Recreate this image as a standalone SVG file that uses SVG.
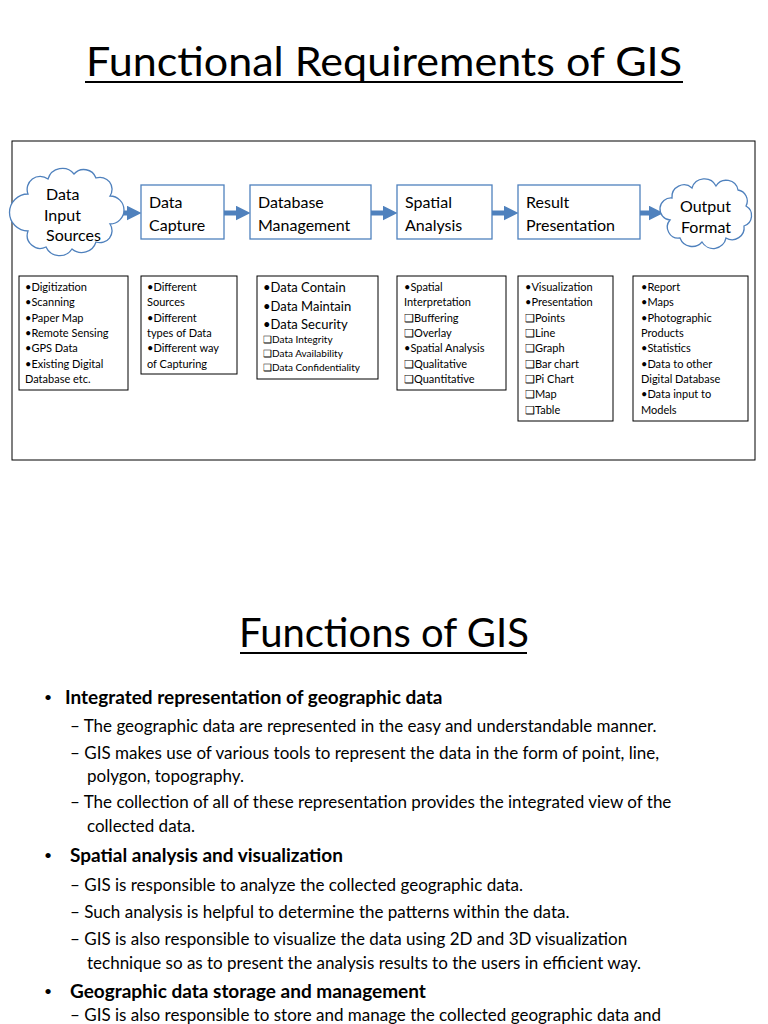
<svg xmlns="http://www.w3.org/2000/svg" width="768" height="1024" viewBox="0 0 768 1024">
<defs>
<style>
text{font-family:Lato,"Open Sans","Liberation Sans",sans-serif;fill:#000}
.t{font-size:40px;text-anchor:middle}
.nb{fill:#fff;stroke:#4f81bd;stroke-width:1.3}
.lb{fill:#fff;stroke:#000;stroke-width:1}
.nt{font-size:16px}
.s{font-size:11px}
.m{font-size:13px}
.h{font-size:19px;font-weight:bold}
.d{font-size:14px}
.b{font-size:17px}
.cl{fill:#fff;stroke:#4f81bd;stroke-width:1.3}
.ar{stroke:#4f81bd;stroke-width:5;fill:none;marker-end:url(#ah)}
</style>
<marker id="ah" markerWidth="3" markerHeight="3" refX="1.5" refY="1.5" orient="auto"><path d="M0,0L3,1.5L0,3z" fill="#4f81bd"/></marker>
</defs>
<text class="t" x="384" y="76" textLength="596" lengthAdjust="spacingAndGlyphs">Functional Requirements of GIS</text>
<line x1="85" y1="82" x2="683" y2="82" stroke="#000" stroke-width="2"/>
<rect x="12" y="141" width="743" height="319" fill="#fff" stroke="#000" stroke-width="1"/>
<g id="connectors">
<line class="ar" x1="121" y1="213" x2="134" y2="213"/>
<line class="ar" x1="224" y1="213" x2="243" y2="213"/>
<line class="ar" x1="371" y1="213" x2="390" y2="213"/>
<line class="ar" x1="492" y1="213" x2="511" y2="213"/>
<line class="ar" x1="640" y1="213" x2="656" y2="213"/>
</g>
<g id="n-input">
<path class="cl" d="M28,194 a13,13 0 0 1 20,-15 a15,15 0 0 1 26,-5 a13,13 0 0 1 22,4 a12,12 0 0 1 14,18 a13,13 0 0 1 0,28 a12,12 0 0 1 -14,18 a15,15 0 0 1 -24,7 a15,15 0 0 1 -26,-2 a13,13 0 0 1 -18,-16 a13,13 0 0 1 0,-37z"/>
<text class="nt" x="46" y="200">Data</text><text class="nt" x="44" y="221">Input</text><text class="nt" x="46" y="241">Sources</text>
</g>
<g id="n-capture"><rect class="nb" x="141" y="185" width="83" height="54"/><text class="nt" x="149" y="208">Data</text><text class="nt" x="149" y="231">Capture</text></g>
<g id="n-db"><rect class="nb" x="250" y="185" width="121" height="54"/><text class="nt" x="258" y="208">Database</text><text class="nt" x="258" y="231">Management</text></g>
<g id="n-spatial"><rect class="nb" x="397" y="185" width="95" height="54"/><text class="nt" x="405" y="208">Spatial</text><text class="nt" x="405" y="231">Analysis</text></g>
<g id="n-result"><rect class="nb" x="518" y="185" width="122" height="54"/><text class="nt" x="526" y="208">Result</text><text class="nt" x="526" y="231">Presentation</text></g>
<g id="n-output">
<path class="cl" d="M672,198 a12,12 0 0 1 20,-10 a13,13 0 0 1 24,-2 a12,12 0 0 1 22,4 a11,11 0 0 1 8,16 a11,11 0 0 1 -2,20 a12,12 0 0 1 -18,12 a13,13 0 0 1 -24,4 a13,13 0 0 1 -22,-4 a11,11 0 0 1 -10,-18 a11,11 0 0 1 2,-22z"/>
<text class="nt" x="680" y="212">Output</text><text class="nt" x="681" y="233">Format</text>
</g>
<g id="l-input"><rect class="lb" x="19" y="276" width="109" height="114"/>
<text class="s"><tspan x="25" y="291">•Digitization</tspan><tspan x="25" y="306">•Scanning</tspan><tspan x="25" y="322">•Paper Map</tspan><tspan x="25" y="337">•Remote Sensing</tspan><tspan x="25" y="352">•GPS Data</tspan><tspan x="25" y="368">•Existing Digital</tspan><tspan x="25" y="383">Database etc.</tspan></text></g>
<g id="l-capture"><rect class="lb" x="141" y="276" width="96" height="98"/>
<text class="s"><tspan x="147" y="291">•Different</tspan><tspan x="147" y="306">Sources</tspan><tspan x="147" y="322">•Different</tspan><tspan x="147" y="337">types of Data</tspan><tspan x="147" y="352">•Different way</tspan><tspan x="147" y="368">of  Capturing</tspan></text></g>
<g id="l-db"><rect class="lb" x="257" y="276" width="121" height="103"/>
<text class="m"><tspan x="263" y="292">•Data Contain</tspan><tspan x="263" y="311">•Data Maintain</tspan><tspan x="263" y="329">•Data Security</tspan></text>
<text style="font-size:10px"><tspan x="263" y="343">❑Data Integrity</tspan><tspan x="263" y="357">❑Data  Availability</tspan><tspan x="263" y="371">❑Data Confidentiality</tspan></text></g>
<g id="l-spatial"><rect class="lb" x="397" y="276" width="109" height="114"/>
<text class="s"><tspan x="404" y="291">•Spatial</tspan><tspan x="404" y="306">Interpretation</tspan><tspan x="404" y="322">❑Buffering</tspan><tspan x="404" y="337">❑Overlay</tspan><tspan x="404" y="352">•Spatial Analysis</tspan><tspan x="404" y="368">❑Qualitative</tspan><tspan x="404" y="383">❑Quantitative</tspan></text></g>
<g id="l-result"><rect class="lb" x="518" y="276" width="95" height="145"/>
<text class="s"><tspan x="525" y="291">•Visualization</tspan><tspan x="525" y="306">•Presentation</tspan><tspan x="525" y="322">❑Points</tspan><tspan x="525" y="337">❑Line</tspan><tspan x="525" y="352">❑Graph</tspan><tspan x="525" y="368">❑Bar chart</tspan><tspan x="525" y="383">❑Pi Chart</tspan><tspan x="525" y="398">❑Map</tspan><tspan x="525" y="414">❑Table</tspan></text></g>
<g id="l-output"><rect class="lb" x="633" y="276" width="115" height="145"/>
<text class="s"><tspan x="641" y="291">•Report</tspan><tspan x="641" y="306">•Maps</tspan><tspan x="641" y="322">•Photographic</tspan><tspan x="641" y="337">Products</tspan><tspan x="641" y="352">•Statistics</tspan><tspan x="641" y="368">•Data to other</tspan><tspan x="641" y="383">Digital Database</tspan><tspan x="641" y="398">•Data input to</tspan><tspan x="641" y="414">Models</tspan></text></g>
<text class="t" x="384" y="647">Functions of GIS</text>
<line x1="240" y1="653" x2="527" y2="653" stroke="#000" stroke-width="2"/>
<g id="body">
<text class="d" x="44" y="702">•</text><text class="h" x="65" y="704">Integrated representation of geographic data</text>
<text class="b" x="70" y="732">– The geographic data are represented in the easy and understandable manner.</text>
<text class="b" x="70" y="759">– GIS makes use of various tools to represent the data in the form of point, line,</text>
<text class="b" x="87" y="782">polygon, topography.</text>
<text class="b" x="70" y="808">– The collection of all of these representation provides the integrated view of the</text>
<text class="b" x="87" y="832">collected data.</text>
<text class="d" x="44" y="860">•</text><text class="h" x="70" y="862">Spatial analysis and visualization</text>
<text class="b" x="70" y="891">– GIS is responsible to analyze the collected geographic data.</text>
<text class="b" x="70" y="918">– Such analysis is helpful to determine the patterns within the data.</text>
<text class="b" x="70" y="945">– GIS is also responsible to visualize the data using 2D and 3D visualization</text>
<text class="b" x="87" y="969">technique so as to present the analysis results to the users in efficient way.</text>
<text class="d" x="44" y="996">•</text><text class="h" x="70" y="998">Geographic data storage and management</text>
<text class="b" x="70" y="1021">– GIS is also responsible to store and manage the collected geographic data and</text>
</g>
</svg>
